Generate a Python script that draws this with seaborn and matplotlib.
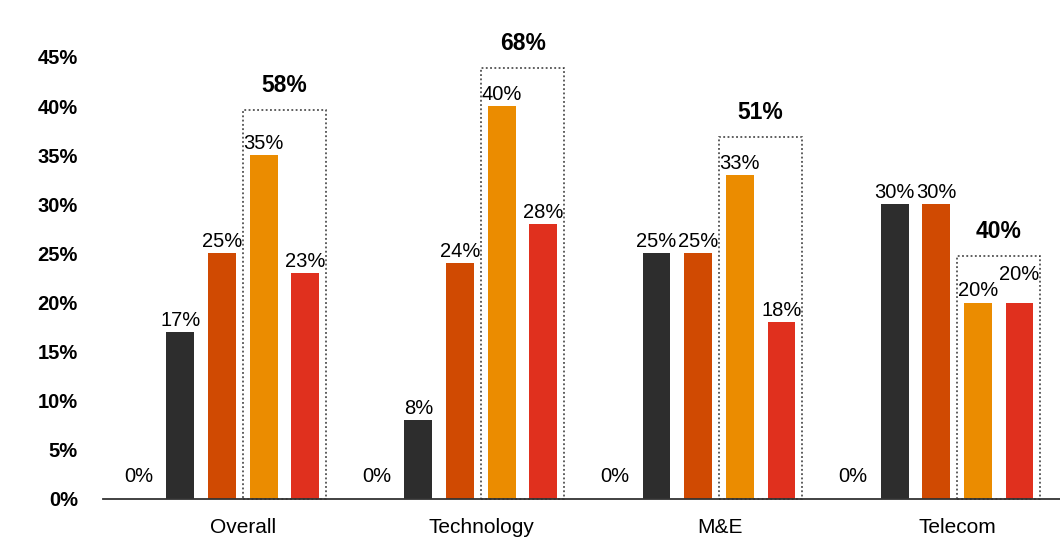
import numpy as np
import pandas as pd
import matplotlib
matplotlib.use("Agg")
import matplotlib.pyplot as plt
from matplotlib.patches import Rectangle
import seaborn as sns

# data (percent)
groups = ["Overall", "Technology", "M&E", "Telecom"]
series = ["Blank", "Series A", "Series B", "Series C", "Series D"]
blank = [0, 0, 0, 0]
series_a = [17, 8, 25, 30]
series_b = [25, 24, 25, 30]
series_c = [35, 40, 33, 20]
series_d = [23, 28, 18, 20]
y_ticks = [0, 5, 10, 15, 20, 25, 30, 35, 40, 45]

colors = ["#ffffff", "#2d2d2d", "#d04a02", "#eb8c00", "#e0301e"]
# headroom of the dotted boxes above the taller bar (style)
box_pad = [4.6, 3.9, 3.9, 4.7]

rows = []
for name, vals in zip(series, [blank, series_a, series_b, series_c, series_d]):
    for g, v in zip(groups, vals):
        rows.append({"group": g, "series": name, "value": v})
df = pd.DataFrame(rows)

sns.set_style("white")
plt.rcParams["font.family"] = ["Liberation Sans", "DejaVu Sans"]
plt.rcParams["text.color"] = "#000000"

fig = plt.figure(figsize=(10.6, 5.47), dpi=100)
ax = fig.add_axes([103 / 1060, 1 - 499 / 547, 1 - 103 / 1060, (499 - 57) / 547])

sns.barplot(data=df, x="group", y="value", hue="series", hue_order=series,
            order=groups, palette=colors, saturation=1, width=0.875, gap=0.33,
            errorbar=None, legend=False, linewidth=0, ax=ax)

ax.set_xlim(-0.5, 3.52)
ax.set_ylim(0, 45)
ax.set_yticks(y_ticks, [f"{t}%" for t in y_ticks], fontsize=14.5, fontweight="bold")
ax.set_xticks(np.arange(len(groups)) + 0.09, groups, fontsize=15)
ax.tick_params(axis="y", length=0, pad=18, labelcolor="#000000")
ax.tick_params(axis="x", length=0, pad=14, labelcolor="#000000")
ax.set_xlabel("")
ax.set_ylabel("")
for s in ["left", "right", "top"]:
    ax.spines[s].set_visible(False)
ax.spines["bottom"].set_color("#333333")
ax.spines["bottom"].set_linewidth(1.3)

# value labels
lift = {(4, 3): 12}  # raised label in Telecom to avoid overlap
for k, cont in enumerate(ax.containers):
    for j, bar in enumerate(cont):
        h = bar.get_height()
        x = bar.get_x() + bar.get_width() / 2
        dy = 12 if h == 0 else 4.5
        dy += lift.get((k, j), 0)
        ax.annotate(f"{h:.0f}%", (x, h), xytext=(0, dy), textcoords="offset points",
                    ha="center", va="baseline", fontsize=14.5, color="#000000",
                    annotation_clip=False)

# dotted boxes around the last two series with their totals
c3, c4 = ax.containers[3], ax.containers[4]
for j in range(len(groups)):
    b3, b4 = c3[j], c4[j]
    left = b3.get_x() - 0.028
    right = b4.get_x() + b4.get_width() + 0.028
    top = max(b3.get_height(), b4.get_height()) + box_pad[j]
    ax.add_patch(Rectangle((left, 0), right - left, top, fill=False,
                           edgecolor="#333333", linewidth=1.1,
                           linestyle=(0, (1.2, 1.6)), clip_on=False, zorder=3))
    total = b3.get_height() + b4.get_height()
    ax.annotate(f"{total:.0f}%", ((left + right) / 2, top), xytext=(0, 13),
                textcoords="offset points", ha="center", va="baseline",
                fontsize=16.5, fontweight="bold", color="#000000",
                annotation_clip=False)

fig.savefig("out.png", dpi=100)
